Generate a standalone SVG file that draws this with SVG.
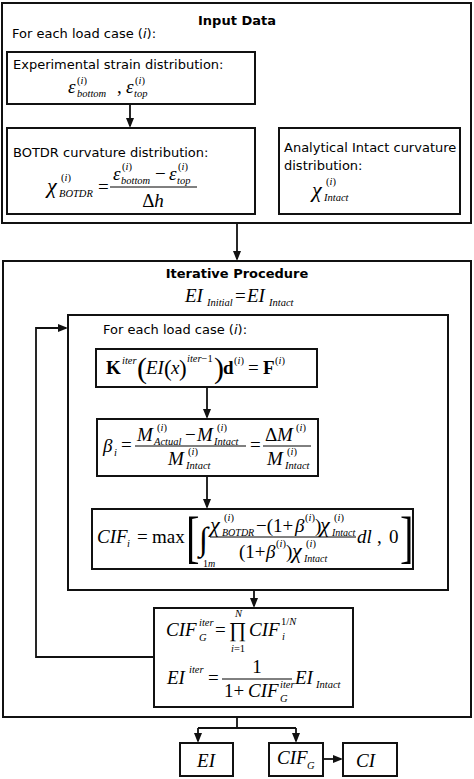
<svg xmlns="http://www.w3.org/2000/svg" width="474" height="779" viewBox="0 0 474 779">
<defs>
<marker id="ah" viewBox="0 0 10 8" refX="8" refY="4" markerWidth="10" markerHeight="8" markerUnits="userSpaceOnUse" orient="auto"><path d="M0,0 L10,4 L0,8 z" fill="#111"/></marker>
<style>
.bx{fill:#fff;stroke:#111;stroke-width:2}
.ln{fill:none;stroke:#111;stroke-width:1.8}
.fl{stroke:#000;stroke-width:1}
.t{font-family:"DejaVu Sans","Liberation Sans",sans-serif;font-size:13px;fill:#000}
.h{font-weight:bold}
.m{font-family:"Liberation Serif","Times New Roman",serif;font-style:italic;font-size:19px;fill:#000}
.s{font-size:10.5px}
.c{font-size:22px}
.u{font-style:normal}
.bf{font-style:normal;font-weight:bold}
</style>
</defs>
<rect width="474" height="779" fill="#fff"/>

<g id="input-data">
<rect class="bx" x="2" y="3" width="469" height="220"/>
<text class="t h" x="237" y="25" text-anchor="middle">Input Data</text>
<text class="t" x="12" y="38">For each load case (<tspan font-style="italic">i</tspan>):</text>
</g>

<g id="experimental-strain">
<rect class="bx" x="7" y="52" width="248" height="52"/>
<text class="t" x="13" y="69">Experimental strain distribution:</text>
<text class="m" x="68" y="93">ε</text>
<text class="m s" x="77" y="84"><tspan class="u">(</tspan>i<tspan class="u">)</tspan></text>
<text class="m s" x="77" y="97">bottom</text>
<text class="m u" x="117" y="93">,</text>
<text class="m" x="126" y="93">ε</text>
<text class="m s" x="135" y="84"><tspan class="u">(</tspan>i<tspan class="u">)</tspan></text>
<text class="m s" x="134" y="97">top</text>
</g>

<g id="botdr-curvature">
<rect class="bx" x="7" y="128" width="248" height="86"/>
<text class="t" x="13" y="157">BOTDR curvature distribution:</text>
<text class="m c" x="47" y="193">χ</text>
<text class="m s" x="61" y="181"><tspan class="u">(</tspan>i<tspan class="u">)</tspan></text>
<text class="m s" x="59" y="197">BOTDR</text>
<text class="m u" x="98" y="193">=</text>
<line class="fl" x1="110" y1="187" x2="197" y2="187"/>
<text class="m" x="113" y="180">ε</text>
<text class="m s" x="122" y="170"><tspan class="u">(</tspan>i<tspan class="u">)</tspan></text>
<text class="m s" x="121" y="184">bottom</text>
<text class="m u" x="155" y="180">−</text>
<text class="m" x="169" y="180">ε</text>
<text class="m s" x="178" y="170"><tspan class="u">(</tspan>i<tspan class="u">)</tspan></text>
<text class="m s" x="177" y="184">top</text>
<text class="m" x="153" y="207" text-anchor="middle"><tspan class="u">Δ</tspan>h</text>
</g>

<g id="analytical-intact">
<rect class="bx" x="279" y="128" width="181" height="86"/>
<text class="t" x="284" y="152">Analytical Intact curvature</text>
<text class="t" x="284" y="170">distribution:</text>
<text class="m c" x="312" y="197">χ</text>
<text class="m s" x="326" y="185"><tspan class="u">(</tspan>i<tspan class="u">)</tspan></text>
<text class="m s" x="324" y="201">Intact</text>
</g>

<g id="iterative-procedure">
<rect class="bx" x="3" y="261" width="468" height="456"/>
<text class="t h" x="237" y="278" text-anchor="middle">Iterative Procedure</text>
<text class="m" x="185" y="302">EI</text>
<text class="m s" x="207" y="306">Initial</text>
<text class="m u" x="235" y="302">=</text>
<text class="m" x="247" y="302">EI</text>
<text class="m s" x="269" y="306">Intact</text>
</g>

<g id="load-case-loop">
<rect class="bx" x="68" y="315" width="380" height="275"/>
<text class="t" x="103" y="334">For each load case (<tspan font-style="italic">i</tspan>):</text>
</g>

<g id="stiffness-equation">
<rect class="bx" x="96" y="349" width="221" height="38"/>
<text class="m bf" x="106" y="374">K</text>
<text class="m s" x="122" y="364">iter</text>
<text class="m u" x="137" y="378" style="font-size:30px">(</text>
<text class="m" x="146" y="374">EI</text>
<text class="m u" x="164" y="376" style="font-size:23px">(</text>
<text class="m" x="171" y="374">x</text>
<text class="m u" x="179" y="376" style="font-size:23px">)</text>
<text class="m s" x="187" y="362">iter<tspan class="u">−1</tspan></text>
<text class="m u" x="214" y="378" style="font-size:30px">)</text>
<text class="m bf" x="223" y="374">d</text>
<text class="m s" x="234" y="364"><tspan class="u">(</tspan>i<tspan class="u">)</tspan></text>
<text class="m u" x="248" y="374">=</text>
<text class="m bf" x="263" y="374">F</text>
<text class="m s" x="275" y="364"><tspan class="u">(</tspan>i<tspan class="u">)</tspan></text>
</g>

<g id="beta-equation">
<rect class="bx" x="97" y="419" width="221" height="57"/>
<text class="m" x="103" y="452">β</text>
<text class="m s" x="114" y="456">i</text>
<text class="m u" x="121" y="451">=</text>
<line class="fl" x1="135" y1="446" x2="246" y2="446"/>
<text class="m" x="137" y="441">M</text>
<text class="m s" x="157" y="431"><tspan class="u">(</tspan>i<tspan class="u">)</tspan></text>
<text class="m s" x="154" y="445">Actual</text>
<text class="m u" x="185" y="441">−</text>
<text class="m" x="197" y="441">M</text>
<text class="m s" x="217" y="431"><tspan class="u">(</tspan>i<tspan class="u">)</tspan></text>
<text class="m s" x="214" y="445">Intact</text>
<text class="m" x="168" y="465">M</text>
<text class="m s" x="188" y="455"><tspan class="u">(</tspan>i<tspan class="u">)</tspan></text>
<text class="m s" x="186" y="469">Intact</text>
<text class="m u" x="250" y="451">=</text>
<line class="fl" x1="263" y1="446" x2="311" y2="446"/>
<text class="m u" x="265" y="441">Δ</text>
<text class="m" x="277" y="441">M</text>
<text class="m s" x="296" y="431"><tspan class="u">(</tspan>i<tspan class="u">)</tspan></text>
<text class="m" x="267" y="465">M</text>
<text class="m s" x="287" y="455"><tspan class="u">(</tspan>i<tspan class="u">)</tspan></text>
<text class="m s" x="285" y="469">Intact</text>
</g>

<g id="cif-equation">
<rect class="bx" x="92" y="509" width="321" height="60"/>
<text class="m" x="97" y="543">CIF</text>
<text class="m s" x="127" y="547">i</text>
<text class="m u" x="137" y="543">=</text>
<text class="m u" x="152" y="543">max</text>
<text class="m u" style="font-size:58px" transform="translate(186,556) scale(0.7,1)">[</text>
<text class="m u" style="font-size:33px" x="199" y="550">∫</text>
<text class="m" x="203" y="567" style="font-size:10px"><tspan class="u">1</tspan>m</text>
<line class="fl" x1="210" y1="537" x2="356" y2="537"/>
<text class="m c" x="210" y="532">χ</text>
<text class="m s" x="224" y="521"><tspan class="u">(</tspan>i<tspan class="u">)</tspan></text>
<text class="m" x="222" y="536" style="font-size:10px">BOTDR</text>
<text class="m u" x="256" y="532">−(1+</text>
<text class="m" x="295" y="532">β</text>
<text class="m s" x="305" y="521"><tspan class="u">(</tspan>i<tspan class="u">)</tspan></text>
<text class="m u" x="315" y="532">)</text>
<text class="m c" x="320" y="532">χ</text>
<text class="m s" x="334" y="521"><tspan class="u">(</tspan>i<tspan class="u">)</tspan></text>
<text class="m" x="332" y="536" style="font-size:10px">Intact</text>
<text class="m u" x="239" y="558">(1+</text>
<text class="m" x="266" y="558">β</text>
<text class="m s" x="276" y="547"><tspan class="u">(</tspan>i<tspan class="u">)</tspan></text>
<text class="m u" x="286" y="558">)</text>
<text class="m c" x="292" y="558">χ</text>
<text class="m s" x="306" y="547"><tspan class="u">(</tspan>i<tspan class="u">)</tspan></text>
<text class="m" x="304" y="562" style="font-size:10px">Intact</text>
<text class="m" x="357" y="543">dl</text>
<text class="m u" x="377" y="543">,</text>
<text class="m u" x="389" y="543">0</text>
<text class="m u" style="font-size:58px" transform="translate(400,556) scale(0.7,1)">]</text>
</g>

<g id="global-cif">
<rect class="bx" x="154" y="608" width="199" height="99"/>
<text class="m" x="166" y="636">CIF</text>
<text class="m s" x="199" y="626">iter</text>
<text class="m s" x="199" y="641">G</text>
<text class="m u" x="215" y="636">=</text>
<text class="m u" style="font-size:21px" x="229" y="637">∏</text>
<text class="m s" x="235" y="617">N</text>
<text class="m s" x="231" y="652">i<tspan class="u">=1</tspan></text>
<text class="m" x="249" y="636">CIF</text>
<text class="m s" x="281" y="625"><tspan class="u">1/</tspan>N</text>
<text class="m s" x="282" y="640">i</text>
<text class="m" x="167" y="684">EI</text>
<text class="m s" x="189" y="673">iter</text>
<text class="m u" x="208" y="684">=</text>
<line class="fl" x1="222" y1="679" x2="292" y2="679"/>
<text class="m u" x="257" y="673" text-anchor="middle">1</text>
<text class="m u" x="224" y="697">1+</text>
<text class="m" x="248" y="697">CIF</text>
<text class="m s" x="280" y="688">iter</text>
<text class="m s" x="280" y="702">G</text>
<text class="m" x="295" y="684">EI</text>
<text class="m s" x="316" y="688">Intact</text>
</g>

<g id="output-ei">
<rect class="bx" x="180" y="743" width="53" height="33"/>
<text class="m" x="206" y="767" text-anchor="middle">EI</text>
</g>
<g id="output-cifg">
<rect class="bx" x="269" y="743" width="54" height="33"/>
<text class="m" x="277" y="764">CIF</text>
<text class="m s" x="307" y="769">G</text>
</g>
<g id="output-ci">
<rect class="bx" x="343" y="743" width="54" height="33"/>
<text class="m" x="356" y="767">CI</text>
</g>

<g id="connectors">
<path class="ln" d="M130,104 V126" marker-end="url(#ah)"/>
<path class="ln" d="M237,223 V259" marker-end="url(#ah)"/>
<path class="ln" d="M207,387 V417" marker-end="url(#ah)"/>
<path class="ln" d="M207,476 V507" marker-end="url(#ah)"/>
<path class="ln" d="M254,590 V606" marker-end="url(#ah)"/>
<path class="ln" d="M154,657 H36 V328 H66" marker-end="url(#ah)"/>
<path class="ln" d="M237,717 V728 M198,728 H296"/>
<path class="ln" d="M198,728 V741" marker-end="url(#ah)"/>
<path class="ln" d="M296,728 V741" marker-end="url(#ah)"/>
<path class="ln" d="M323,759 H341" marker-end="url(#ah)"/>
</g>
</svg>
